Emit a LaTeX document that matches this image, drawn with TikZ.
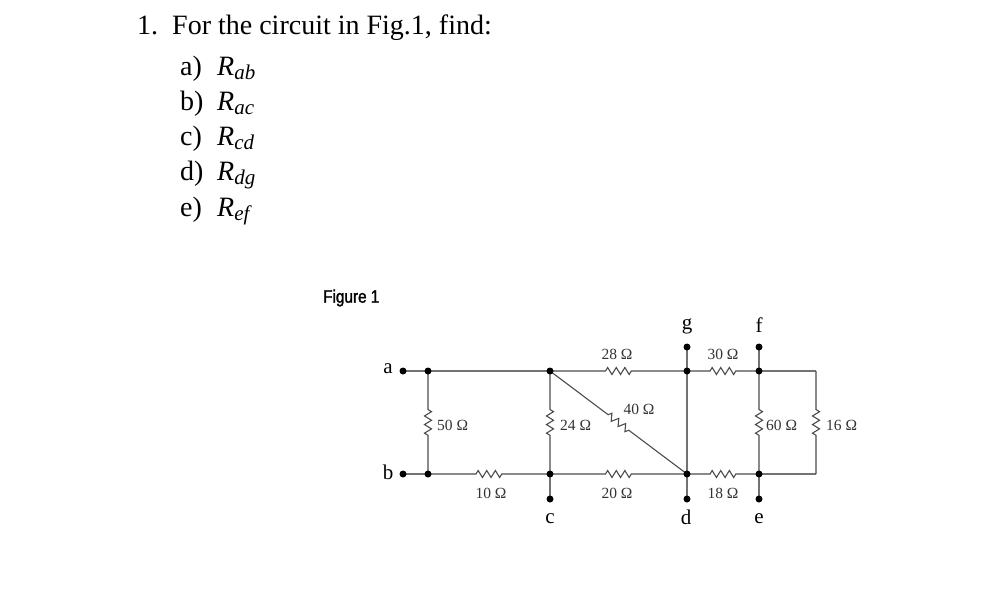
\documentclass[tikz,border=0pt]{standalone}
\usepackage{fontspec}
\setmainfont{Liberation Serif}
\newfontfamily\figsans{Liberation Sans}[FakeBold=1.5,FakeStretch=0.85]
\usetikzlibrary{calc,decorations.pathmorphing}
\newcommand\Rsub[1]{\textit{R}\raisebox{-0.35ex}{\fontsize{21}{21}\selectfont\textit{#1}}}
\newcommand\itm[2]{\makebox[37pt][l]{#1}\Rsub{#2}}
\begin{document}
\begin{tikzpicture}[x=1pt,y=-1pt,
  wire/.style={draw=black!55,line width=1.1pt},
  dot/.style={circle,fill=black,inner sep=0pt,minimum size=7pt},
  lbl/.style={font=\fontsize{15.5}{16}\selectfont,text=black!80,inner sep=1pt},
  term/.style={font=\fontsize{21}{21}\selectfont,inner sep=1pt},
  q/.style={anchor=west,font=\fontsize{28}{29}\selectfont,inner sep=0pt},
  qi/.style={q,anchor=base west}]
\useasboundingbox (0,0) rectangle (1008,611);
\node[q] (t0) at (137,28) {1.\ \ For the circuit in Fig.1, find:};
\node[qi] (t1) at (180,75) {\itm{a)}{ab}};
\node[qi] (t2) at (180,110) {\itm{b)}{ac}};
\node[qi] (t3) at (180,145) {\itm{c)}{cd}};
\node[qi] (t4) at (180,180) {\itm{d)}{dg}};
\node[qi] (t5) at (180,216) {\itm{e)}{ef}};
\node[anchor=west,inner sep=0pt,font=\figsans\fontsize{18}{18}\selectfont] (fig) at (323,298) {Figure 1};
% nodes
\coordinate (A1) at (428,371); \coordinate (Cn) at (550,371);
\coordinate (G) at (687,371); \coordinate (F) at (759,371); \coordinate (R1) at (816,371);
\coordinate (B1) at (428,474); \coordinate (C) at (550,474);
\coordinate (D) at (687,474); \coordinate (E) at (759,474); \coordinate (R2) at (816,474);
\coordinate (ta) at (403,371); \coordinate (tb) at (403,474);
\coordinate (tc) at (550,499); \coordinate (td) at (687,499); \coordinate (te) at (759,499);
\coordinate (tg) at (687,347); \coordinate (tf) at (759,347);
\newcommand\resist[2]{\coordinate (m) at ($(#1)!0.5!(#2)$);
  \draw[wire,draw=black!70] (#1) -- ($(m)!13pt!(#1)$) decorate[decoration={zigzag,segment length=8.6pt,amplitude=3.5pt}]{-- ($(m)!13pt!(#2)$)} -- (#2);}
% plain wires
\draw[wire] (ta) -- (A1) -- (Cn); \draw[wire] (tb) -- (B1);
\draw[wire] (F) -- (R1); \draw[wire] (E) -- (R2);
\draw[wire] (G) -- (D); \draw[wire] (tg) -- (G); \draw[wire] (tf) -- (F);
\draw[wire] (C) -- (tc); \draw[wire] (D) -- (td); \draw[wire] (E) -- (te);
\resist{Cn}{G} \resist{G}{F} \resist{B1}{C} \resist{C}{D} \resist{D}{E}
\resist{A1}{B1} \resist{Cn}{C} \resist{F}{E} \resist{R1}{R2} \resist{Cn}{D}
\foreach \p in {A1,Cn,G,F,B1,C,D,E,ta,tb,tc,td,te,tg,tf} \node[dot] at (\p) {};
% labels
\node[lbl] (l28) at (617,354) {28 Ω};
\node[lbl] (l30) at (723,354) {30 Ω};
\node[lbl] (l10) at (491,493) {10 Ω};
\node[lbl] (l20) at (617,493) {20 Ω};
\node[lbl] (l18) at (723,493) {18 Ω};
\node[lbl,anchor=west] (l50) at (436,425) {50 Ω};
\node[lbl,anchor=west] (l24) at (559,425) {24 Ω};
\node[lbl,anchor=west] (l60) at (765,425) {60 Ω};
\node[lbl,anchor=west] (l16) at (825,425) {16 Ω};
\node[lbl] (l40) at (639,409) {40 Ω};
\node[term] (la) at (388,369) {a};
\node[term] (lb) at (388,472) {b};
\node[term] (lc) at (550,519) {c};
\node[term] (ld) at (686,517) {d};
\node[term] (le) at (759,519) {e};
\node[term] (lg) at (687,326) {g};
\node[term] (lf) at (759,325) {f};
\end{tikzpicture}
\end{document}
